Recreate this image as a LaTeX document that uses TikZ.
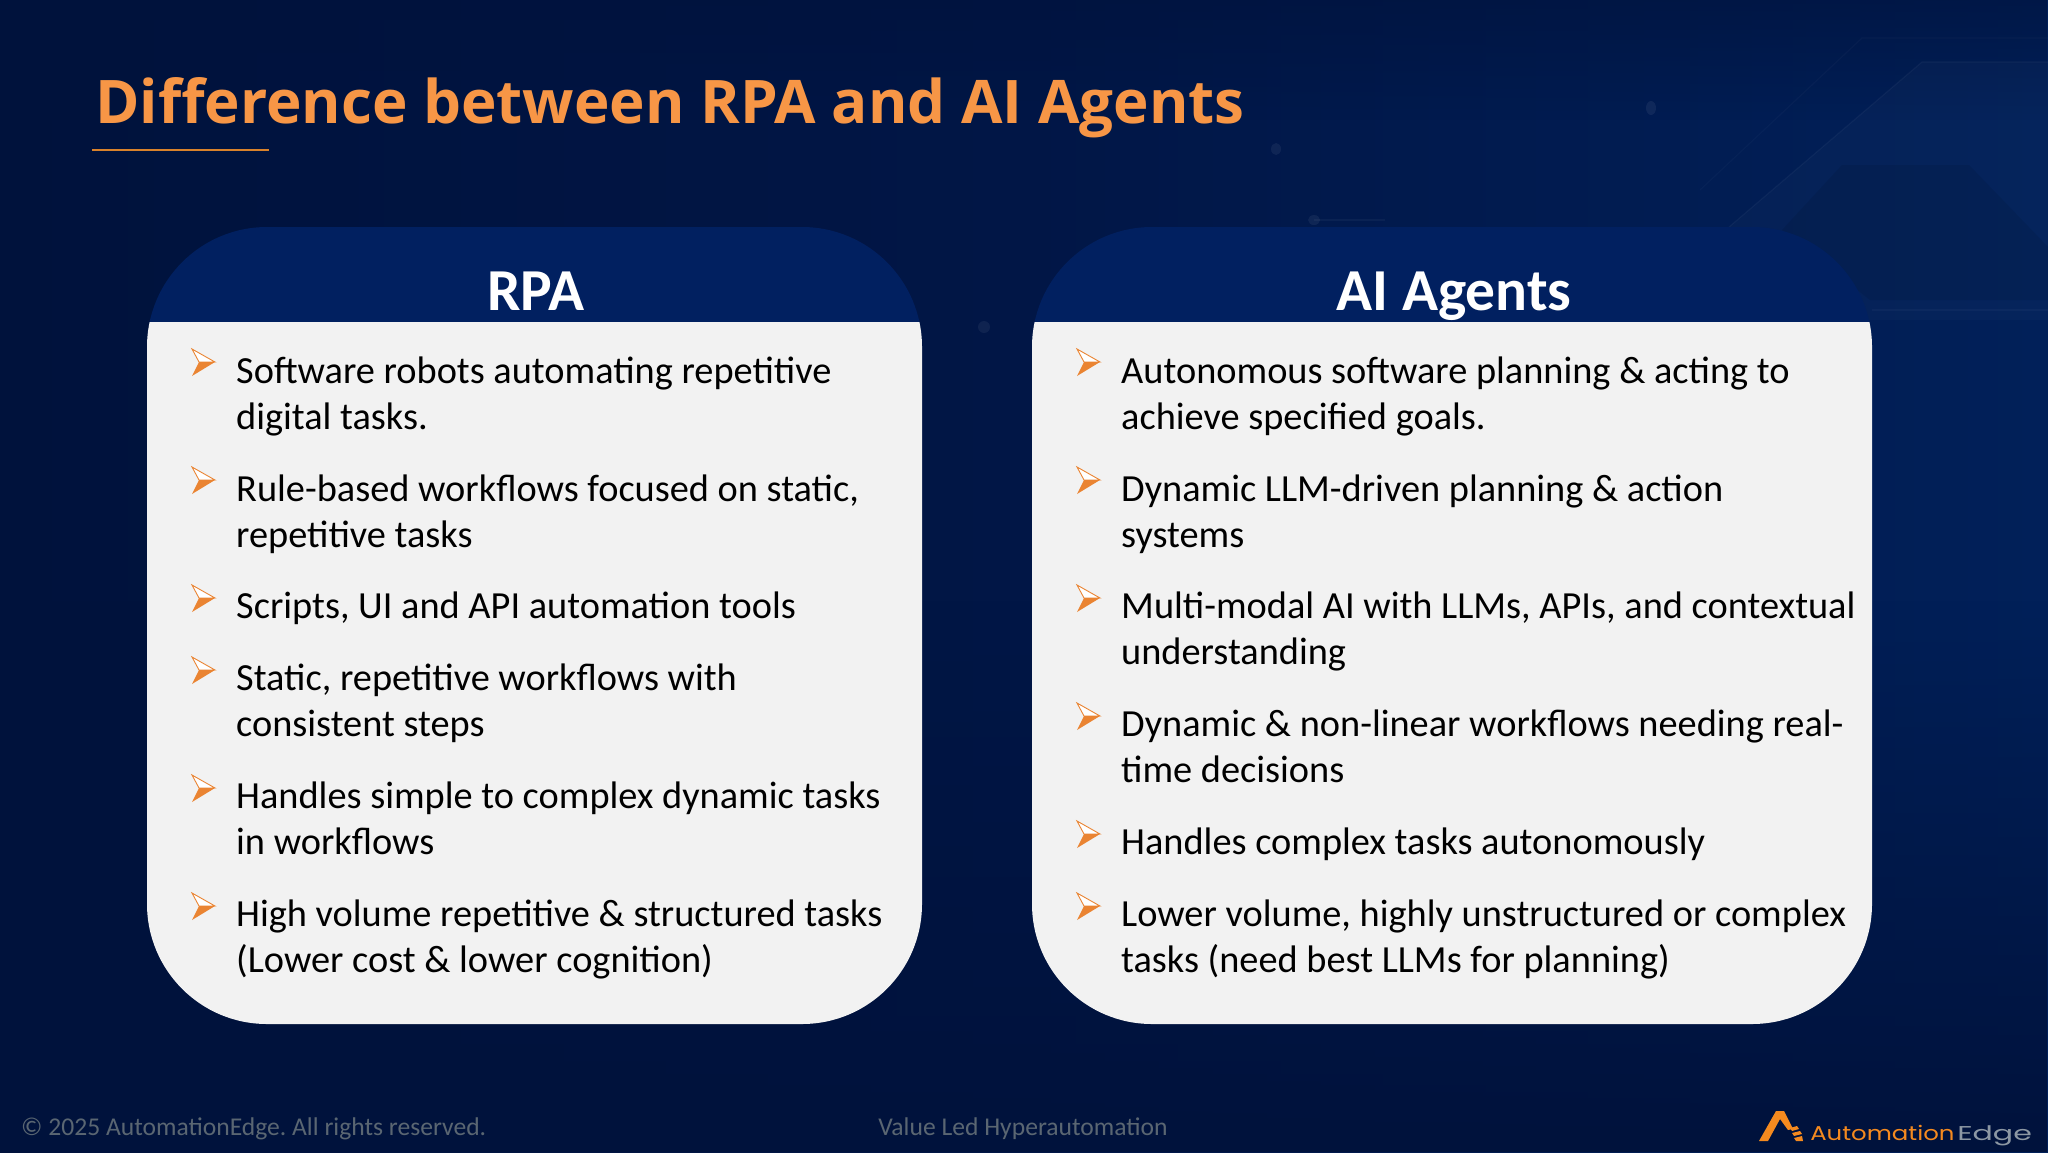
\documentclass[tikz,border=0pt]{standalone}
\usepackage{fontspec}
\usetikzlibrary{fadings}
\setmainfont{Carlito}
\newfontfamily\titlefont{Open Sans}
\newfontfamily\logofont{Poppins}
\definecolor{bgdark}{HTML}{00123C}
\definecolor{bgmid}{HTML}{011646}
\definecolor{bgright}{HTML}{012059}
\definecolor{headblue}{HTML}{012060}
\definecolor{panelgrey}{HTML}{F2F2F2}
\definecolor{titleorange}{HTML}{F79646}
\definecolor{ruleorange}{HTML}{D9822B}
\definecolor{bulorange}{HTML}{EA8432}
\definecolor{footgrey}{HTML}{5A6672}
\definecolor{logoorange}{HTML}{F58A1F}
\definecolor{logogrey}{HTML}{8C97A3}
\tikzset{
  x=1pt,y=-1pt,
  body/.style={anchor=base west,inner sep=0pt,text=black,font=\fontsize{38.35}{46}\selectfont},
  headtext/.style={anchor=base,inner sep=0pt,text=white,font=\fontsize{59.5}{62}\selectfont\bfseries},
  foot/.style={anchor=base,inner sep=0pt,text=footgrey,font=\frenchspacing\fontsize{25.6}{30}\selectfont},
  techfill/.style={fill=white,fill opacity=0.018,draw=none},
  techline/.style={draw=white,draw opacity=0.04,line width=1.2pt},
  techdot/.style={fill=white,fill opacity=0.06,draw=none},
}
\newcommand{\bulmark}[2]{%
  \fill[white] (#1,#2-13) -- (#1+23,#2) -- (#1+7,#2) -- cycle;
  \draw[bulorange,line width=0.9pt,line join=miter] (#1,#2-13) -- (#1+23,#2) -- (#1+7,#2) -- cycle;
  \fill[bulorange] (#1,#2+14) -- (#1+23,#2) -- (#1+7,#2) -- cycle;
}
\begin{document}
\begin{tikzpicture}
\useasboundingbox (0,0) rectangle (2048,1152);
% background
\shade[left color=bgdark,right color=bgmid] (0,0) rectangle (1024,1152);
\shade[left color=bgmid,right color=bgright] (1024,0) rectangle (2048,1152);
\fill[bgdark,path fading=north] (0,600) rectangle (2048,1152);
\fill[bgdark,path fading=south,opacity=0.6] (0,0) rectangle (2048,120);
% faint technical shapes, upper right
\fill[techfill] (1729,227) -- (1922,62) -- (2048,62) -- (2048,320) -- (1860,320) -- cycle;
\fill[black,opacity=0.07] (1782,230) -- (1842,165) -- (1969,165) -- (2048,247) -- (2048,300) -- (1870,300) -- cycle;
\draw[techline] (1729,227) -- (1922,62) -- (2048,62);
\draw[techline,draw opacity=0.025] (1700,190) -- (1862,38) -- (2048,38);
\draw[techline,draw opacity=0.03] (1872,310) -- (2048,310);
\fill[techdot] (1651,108) ellipse (5 and 7);
\fill[techdot] (1276,149) ellipse (5 and 6);
\fill[techdot] (1314,220) ellipse (6 and 5);
\draw[techline] (1314,220) -- (1385,220);
\fill[techdot] (984,327) circle (6);
% title
\node[anchor=base west,inner sep=0pt,text=titleorange,font=\titlefont\bfseries\fontsize{60.1}{70}\selectfont] (title) at (95,123) {Difference between RPA and AI Agents};
\coordinate (ruleL) at (92,150);
\coordinate (ruleR) at (269,150);
\draw[ruleorange,line width=1.4pt] (ruleL) -- (ruleR);
% panels
\begin{scope}
\clip (100,200) rectangle (1950,322);
\fill[headblue,rounded corners=120pt] (147,227) rectangle (922,1024);
\fill[headblue,rounded corners=120pt] (1032,227) rectangle (1872,1024);
\end{scope}
\begin{scope}
\clip (100,322) rectangle (1950,1100);
\fill[panelgrey,rounded corners=120pt] (147,227) rectangle (922,1024);
\fill[panelgrey,rounded corners=120pt] (1032,227) rectangle (1872,1024);
\end{scope}
\node[headtext] (rpahead) at (536,310) {RPA};
\node[headtext] (aihead) at (1454,310) {AI Agents};
% left list
\bulmark{192}{362}
\node[body] (l1a) at (236,383) {Software robots automating repetitive};
\node[body] (l1b) at (236,429) {digital tasks.};
\bulmark{192}{480}
\node[body] (l2a) at (236,501) {Rule-based workflows focused on static,};
\node[body] (l2b) at (236,547) {repetitive tasks};
\bulmark{192}{598}
\node[body] (l3a) at (236,618.5) {Scripts, UI and API automation tools};
\bulmark{192}{670}
\node[body] (l4a) at (236,690.5) {Static, repetitive workflows with};
\node[body] (l4b) at (236,736.5) {consistent steps};
\bulmark{192}{788}
\node[body] (l5a) at (236,808) {Handles simple to complex dynamic tasks};
\node[body] (l5b) at (236,854) {in workflows};
\bulmark{192}{906}
\node[body] (l6a) at (236,926) {High volume repetitive \& structured tasks};
\node[body] (l6b) at (236,972) {(Lower cost \& lower cognition)};
% right list
\bulmark{1077}{362}
\node[body] (r1a) at (1121,383) {Autonomous software planning \& acting to};
\node[body] (r1b) at (1121,429) {achieve specified goals.};
\bulmark{1077}{480}
\node[body] (r2a) at (1121,501) {Dynamic LLM-driven planning \& action};
\node[body] (r2b) at (1121,547) {systems};
\bulmark{1077}{598}
\node[body] (r3a) at (1121,618.5) {Multi-modal AI with LLMs, APIs, and contextual};
\node[body] (r3b) at (1121,664.5) {understanding};
\bulmark{1077}{716}
\node[body] (r4a) at (1121,736.5) {Dynamic \& non-linear workflows needing real-};
\node[body] (r4b) at (1121,782.5) {time decisions};
\bulmark{1077}{834}
\node[body] (r5a) at (1121,854) {Handles complex tasks autonomously};
\bulmark{1077}{906}
\node[body] (r6a) at (1121,926) {Lower volume, highly unstructured or complex};
\node[body] (r6b) at (1121,972) {tasks (need best LLMs for planning)};
% footer
\node[foot,anchor=base west] (copy) at (21,1135) {© 2025 AutomationEdge. All rights reserved.};
\node[foot] (tag) at (1023,1135) {Value Led Hyperautomation};
% logo
\fill[logoorange] (1759,1141) -- (1776,1111) -- (1784,1111) -- (1793,1129) -- (1788,1130) -- (1780,1119) -- (1768,1141) -- cycle;
\fill[logoorange] (1790,1128) -- (1797,1126) -- (1799,1129) -- (1792,1131) -- cycle;
\fill[logoorange] (1792,1133) -- (1800,1131) -- (1802,1134) -- (1794,1136) -- cycle;
\fill[logoorange] (1794,1138) -- (1802,1136) -- (1803,1141) -- (1796,1141) -- cycle;
\node[anchor=base west,inner sep=0pt,text=logoorange,font=\logofont\fontsize{20}{24}\selectfont,xscale=1.22] (logoa) at (1810,1140) {Automation};
\node[anchor=base west,inner sep=0pt,text=logogrey,font=\logofont\fontsize{20}{24}\selectfont,xscale=1.5] (logob) at (1957,1140) {Edge};
\end{tikzpicture}
\end{document}
